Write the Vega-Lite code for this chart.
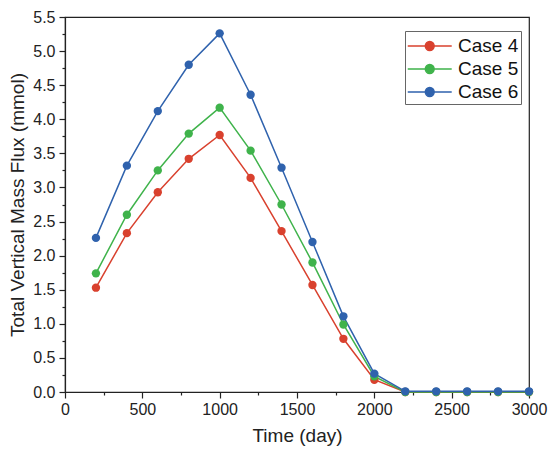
{
  "$schema": "https://vega.github.io/schema/vega-lite/v6.json",
  "width": 464,
  "height": 375,
  "autosize": "none",
  "padding": {"left": 65, "top": 17, "right": 21, "bottom": 65},
  "background": "white",
  "config": {
    "font": "Liberation Sans",
    "view": {"stroke": "#222222", "strokeWidth": 1.2},
    "axis": {
      "domainColor": "#222222",
      "domainWidth": 1.2,
      "tickColor": "#222222",
      "tickWidth": 1.2,
      "labelColor": "#222222",
      "titleColor": "#222222",
      "labelFontSize": 16,
      "titleFontSize": 19,
      "titleFontWeight": "normal",
      "labelFlush": false,
      "grid": false
    }
  },
  "data": {
    "values": [
      {"time": 200, "case": "Case 4", "flux": 1.53},
      {"time": 400, "case": "Case 4", "flux": 2.33},
      {"time": 600, "case": "Case 4", "flux": 2.93},
      {"time": 800, "case": "Case 4", "flux": 3.42},
      {"time": 1000, "case": "Case 4", "flux": 3.77},
      {"time": 1200, "case": "Case 4", "flux": 3.14},
      {"time": 1400, "case": "Case 4", "flux": 2.36},
      {"time": 1600, "case": "Case 4", "flux": 1.57},
      {"time": 1800, "case": "Case 4", "flux": 0.78},
      {"time": 2000, "case": "Case 4", "flux": 0.18},
      {"time": 2200, "case": "Case 4", "flux": 0},
      {"time": 2400, "case": "Case 4", "flux": 0},
      {"time": 2600, "case": "Case 4", "flux": 0},
      {"time": 2800, "case": "Case 4", "flux": 0},
      {"time": 3000, "case": "Case 4", "flux": 0},
      {"time": 200, "case": "Case 5", "flux": 1.74},
      {"time": 400, "case": "Case 5", "flux": 2.6},
      {"time": 600, "case": "Case 5", "flux": 3.25},
      {"time": 800, "case": "Case 5", "flux": 3.79},
      {"time": 1000, "case": "Case 5", "flux": 4.17},
      {"time": 1200, "case": "Case 5", "flux": 3.54},
      {"time": 1400, "case": "Case 5", "flux": 2.75},
      {"time": 1600, "case": "Case 5", "flux": 1.9},
      {"time": 1800, "case": "Case 5", "flux": 0.99},
      {"time": 2000, "case": "Case 5", "flux": 0.23},
      {"time": 2200, "case": "Case 5", "flux": 0},
      {"time": 2400, "case": "Case 5", "flux": 0},
      {"time": 2600, "case": "Case 5", "flux": 0},
      {"time": 2800, "case": "Case 5", "flux": 0},
      {"time": 3000, "case": "Case 5", "flux": 0},
      {"time": 200, "case": "Case 6", "flux": 2.26},
      {"time": 400, "case": "Case 6", "flux": 3.32},
      {"time": 600, "case": "Case 6", "flux": 4.12},
      {"time": 800, "case": "Case 6", "flux": 4.8},
      {"time": 1000, "case": "Case 6", "flux": 5.26},
      {"time": 1200, "case": "Case 6", "flux": 4.36},
      {"time": 1400, "case": "Case 6", "flux": 3.29},
      {"time": 1600, "case": "Case 6", "flux": 2.2},
      {"time": 1800, "case": "Case 6", "flux": 1.11},
      {"time": 2000, "case": "Case 6", "flux": 0.27},
      {"time": 2200, "case": "Case 6", "flux": 0.01},
      {"time": 2400, "case": "Case 6", "flux": 0.01},
      {"time": 2600, "case": "Case 6", "flux": 0.01},
      {"time": 2800, "case": "Case 6", "flux": 0.01},
      {"time": 3000, "case": "Case 6", "flux": 0.01}
    ]
  },
  "resolve": {"axis": {"x": "independent", "y": "independent"}},
  "layer": [
    {
      "mark": {"type": "line", "strokeWidth": 1.5},
      "encoding": {
        "x": {
          "field": "time",
          "type": "quantitative",
          "scale": {"domain": [0, 3000], "nice": false},
          "axis": {
            "orient": "bottom",
            "title": "Time (day)",
            "values": [0, 500, 1000, 1500, 2000, 2500, 3000],
            "format": "d",
            "tickSize": 6,
            "labelPadding": 3,
            "titlePadding": 9
          }
        },
        "y": {
          "field": "flux",
          "type": "quantitative",
          "scale": {"domain": [0, 5.5], "nice": false},
          "axis": {
            "orient": "left",
            "title": "Total Vertical Mass Flux (mmol)",
            "values": [0, 0.5, 1, 1.5, 2, 2.5, 3, 3.5, 4, 4.5, 5, 5.5],
            "format": ".1f",
            "tickSize": 6,
            "labelPadding": 4,
            "titlePadding": 5
          }
        },
        "color": {
          "field": "case",
          "type": "nominal",
          "scale": {"range": ["#d9412e", "#3fb34b", "#2f62ad"]},
          "legend": {
            "title": null,
            "orient": "none",
            "legendX": 340,
            "legendY": 14,
            "strokeColor": "#666666",
            "padding": 2,
            "labelFontSize": 19,
            "labelColor": "#111111",
            "labelOffset": 25,
            "symbolType": "M-1,0L0.435,0M1.155,0L2.59,0M0.435,0A0.36,0.36 0 1,1 1.155,0A0.36,0.36 0 1,1 0.435,0Z",
            "symbolSize": 600,
            "symbolStrokeWidth": 1.5,
            "rowPadding": 0
          }
        }
      }
    },
    {
      "mark": {"type": "point", "filled": true, "opacity": 1, "size": 70},
      "encoding": {
        "x": {
          "field": "time",
          "type": "quantitative",
          "scale": {"domain": [0, 3000], "nice": false},
          "axis": {
            "orient": "bottom",
            "title": null,
            "labels": false,
            "domain": false,
            "values": [250, 750, 1250, 1750, 2250, 2750],
            "tickSize": 3
          }
        },
        "y": {
          "field": "flux",
          "type": "quantitative",
          "scale": {"domain": [0, 5.5], "nice": false},
          "axis": {
            "orient": "left",
            "title": null,
            "labels": false,
            "domain": false,
            "values": [0.25, 0.75, 1.25, 1.75, 2.25, 2.75, 3.25, 3.75, 4.25, 4.75, 5.25],
            "tickSize": 3
          }
        },
        "color": {"field": "case", "type": "nominal", "legend": null}
      }
    }
  ]
}
